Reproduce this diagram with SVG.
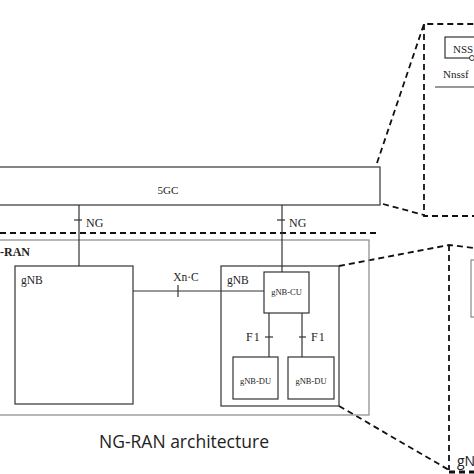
<svg xmlns="http://www.w3.org/2000/svg" width="474" height="474" viewBox="0 0 474 474">
<style>
.box{fill:#fff;stroke:#333;stroke-width:1.2}
.ln{fill:none;stroke:#333;stroke-width:1.2}
.dash{fill:none;stroke:#111;stroke-width:1.8;stroke-dasharray:6 4}
.t{font-family:"Liberation Serif",serif;fill:#222}
.s{font-family:"Open Sans","Liberation Sans",sans-serif;fill:#222}
</style>
<rect width="474" height="474" fill="#fff"/>
<g id="zoom-callouts">
<path class="dash" d="M377,163 L424,24 L474,24"/>
<path class="dash" d="M424,24 L424,216 L474,216"/>
<path class="dash" d="M383,204 L424,215"/>
<path class="dash" d="M0,233 L378,233"/>
<path class="dash" d="M339,266 L449,245 L474,248"/>
<path class="dash" d="M449,245 L449,470"/>
<path class="dash" d="M339,406 L449,470"/>
<path class="dash" d="M449,472 L474,472" style="stroke-width:3"/>
</g>
<g id="nssf-detail">
<rect class="box" x="445" y="37" width="40" height="21"/>
<text class="t" x="453" y="53" font-size="11">NSS</text>
<circle cx="472" cy="58" r="2.5" fill="#fff" stroke="#333" stroke-width="1"/>
<text class="t" x="443" y="78" font-size="11">Nnssf</text>
<line class="ln" x1="435" y1="87" x2="474" y2="87"/>
</g>
<g id="gnb-detail">
<rect x="471" y="260" width="10" height="57" fill="#fff" stroke="#888" stroke-width="1.2"/>
<text class="s" x="457" y="466" font-size="14">gN</text>
</g>
<g id="fivegc">
<rect class="box" x="-5" y="167" width="385" height="38"/>
<text class="t" x="168" y="194" font-size="11" text-anchor="middle">5GC</text>
</g>
<g id="ngran">
<rect x="-5" y="240" width="374" height="175" fill="none" stroke="#888" stroke-width="1.2"/>
<text class="t" x="0" y="256" font-size="12" font-weight="bold">-RAN</text>
</g>
<g id="gnb1">
<rect class="box" x="15" y="266" width="118" height="138"/>
<text class="t" x="21" y="284" font-size="11.5">gNB</text>
</g>
<g id="gnb2">
<rect class="box" x="221" y="266" width="118" height="140"/>
<text class="t" x="227" y="284" font-size="11.5">gNB</text>
</g>
<g id="gnb-cu">
<rect class="box" x="264" y="272" width="45" height="41"/>
<text class="t" x="286.5" y="295" font-size="8.5" text-anchor="middle">gNB-CU</text>
</g>
<g id="gnb-du1">
<rect class="box" x="233" y="357" width="45" height="42"/>
<text class="t" x="255.5" y="384" font-size="8.5" text-anchor="middle">gNB-DU</text>
</g>
<g id="gnb-du2">
<rect class="box" x="288" y="357" width="46" height="42"/>
<text class="t" x="311" y="384" font-size="8.5" text-anchor="middle">gNB-DU</text>
</g>
<g id="connectors">
<line class="ln" x1="79" y1="205" x2="79" y2="266"/>
<line class="ln" x1="74" y1="220" x2="82" y2="220"/>
<text class="t" x="86" y="227" font-size="12">NG</text>
<line class="ln" x1="282" y1="205" x2="282" y2="272"/>
<line class="ln" x1="277" y1="220" x2="285" y2="220"/>
<text class="t" x="289" y="227" font-size="12">NG</text>
<line class="ln" x1="133" y1="291" x2="264" y2="291"/>
<line class="ln" x1="178" y1="285" x2="178" y2="297"/>
<text class="t" x="186" y="281" font-size="11.5" text-anchor="middle">Xn·C</text>
<line class="ln" x1="269" y1="313" x2="269" y2="357"/>
<line class="ln" x1="265" y1="337" x2="273" y2="337"/>
<text class="t" x="246" y="341" font-size="12" letter-spacing="1">F1</text>
<line class="ln" x1="302" y1="313" x2="302" y2="357"/>
<line class="ln" x1="299" y1="337" x2="306" y2="337"/>
<text class="t" x="311" y="341" font-size="12" letter-spacing="1">F1</text>
</g>
<text class="s" x="184" y="448" font-size="17.5" text-anchor="middle">NG-RAN architecture</text>
</svg>
